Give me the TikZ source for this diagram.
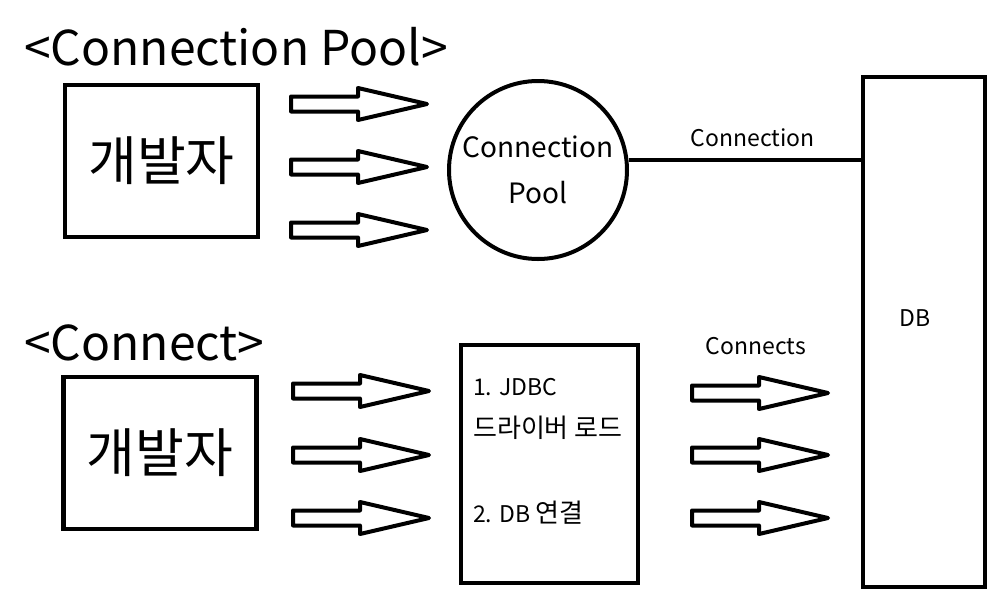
\documentclass[tikz,border=0pt]{standalone}
\usepackage{fontspec}
\setmainfont{Noto Sans CJK KR}
\usetikzlibrary{positioning,calc}
\newcommand{\krbig}{\fontsize{26}{30}\selectfont}
\tikzset{
  cp/box/.style={draw, line width=4.5pt, inner sep=0pt, align=center},
  cp/dev/.style={cp/box, minimum width=193pt, minimum height=152pt,
                 font=\fontsize{53}{60}\selectfont},
  cp/pool/.style={draw, circle, line width=4pt, minimum size=178pt, inner sep=0pt,
                  align=center, font=\fontsize{28}{46}\selectfont},
  cp/title/.style={font=\fontsize{48}{54}\selectfont, inner sep=0pt, anchor=base west},
  cp/lbl/.style={font=\fontsize{23}{27}\selectfont, inner sep=0pt},
  cp/link/.style={line width=4pt},
  cp/arrow line/.style={line width=4pt, line join=round, fill=white},
  cp/fat arrow/.pic={
    \draw[cp/arrow line] (0,-7.5) -- (67,-7.5) -- (67,-16) -- (136,0)
      -- (67,16) -- (67,7.5) -- (0,7.5) -- cycle;
  },
}
\begin{document}
\begin{tikzpicture}[x=1pt, y=-1pt]
  \useasboundingbox (0,0) rectangle (1005,606);

  % ---------------- connection pool ----------------
  \node[cp/title] (cptitle) at (24,65) {<Connection Pool>};
  \node[cp/dev] (dev1) at (161.5,161) {개발자};
  \node[cp/pool] (pool) at (538,170) {Connection\\Pool};
  \node[cp/box, line width=4pt, minimum width=122pt, minimum height=510pt] (db) at (924,332) {};
  \node[cp/lbl] (dblbl) at (915,318) {DB};

  \pic (pa1) at (291,104) {cp/fat arrow};
  \pic (pa2) at (291,167) {cp/fat arrow};
  \pic (pa3) at (291,230) {cp/fat arrow};

  \draw[cp/link] (pool.6) -- (pool.6 -| db.west)
    node[cp/lbl, midway, above=12pt, xshift=8pt] {Connection};

  % ---------------- direct connect ----------------
  \node[cp/title] (cntitle) at (24,360) {<Connect>};
  \node[cp/dev] (dev2) at (160,453) {개발자};
  \node[cp/box, line width=4pt, minimum width=177pt, minimum height=238pt] (proc) at (549.5,464) {};
  \node[cp/lbl, anchor=west] (step1) at (473,387) {1. JDBC};
  \node[cp/lbl, anchor=west] (step1b) at (473,428) {\krbig 드라이버 로드};
  \node[cp/lbl, anchor=west] (step2) at (473,513) {2. DB {\krbig 연결}};

  \pic (ca1) at (293,391) {cp/fat arrow};
  \pic (ca2) at (293,455) {cp/fat arrow};
  \pic (ca3) at (293,518) {cp/fat arrow};

  \node[cp/lbl] (cnlbl) at (756,346) {Connects};
  \pic (da1) at (692,393) {cp/fat arrow};
  \pic (da2) at (692,455) {cp/fat arrow};
  \pic (da3) at (692,518) {cp/fat arrow};

\end{tikzpicture}
\end{document}
